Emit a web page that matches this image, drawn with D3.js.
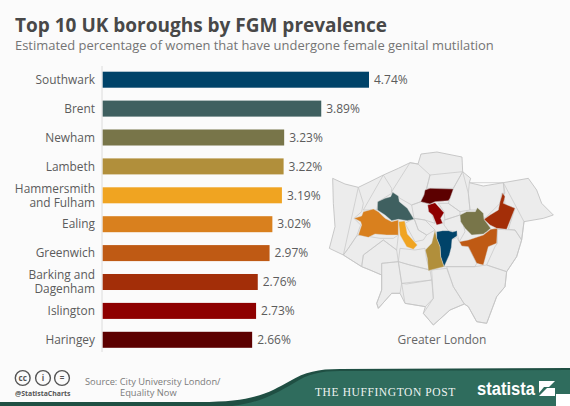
<!DOCTYPE html>
<html>
<head>
<meta charset="utf-8">
<script src="https://cdnjs.cloudflare.com/ajax/libs/d3/7.8.5/d3.min.js"></script>
<style>
html,body{margin:0;padding:0;background:#fbfbfb;}
svg{display:block;font-family:"Open Sans",sans-serif;}
</style>
</head>
<body>
<svg id="chart" width="570" height="406"></svg>
<script>
var boroughs = ["Southwark","Brent","Newham","Lambeth","Hammersmith|and Fulham","Ealing","Greenwich","Barking and|Dagenham","Islington","Haringey"];
var prevalence = [4.74,3.89,3.23,3.22,3.19,3.02,2.97,2.76,2.73,2.66];
var barColors = ["#004369","#3f6060","#787549","#b18f3b","#f0a421","#d9801e","#bf5a14","#a32e08","#8e0000","#5c0000"];

// map outlines
var silhouette = [[38,55],[75,72],[115,82],[150,65],[190,45],[235,25],[270,8],[294,12],[303,-18],[351,-24],[426,-9],[428,35],[452,55],[448,68],[490,78],[550,68],[625,55],[650,90],[665,130],[700,165],[670,175],[612,185],[605,240],[590,290],[560,335],[555,380],[530,410],[500,490],[470,485],[445,440],[433,432],[390,450],[340,495],[310,460],[316,440],[255,430],[240,400],[215,400],[175,445],[170,430],[185,390],[185,345],[150,330],[125,320],[70,285],[28,265],[45,200],[40,130]];
var greyAreas = [
  [[115,82],[130,130],[125,155],[102,175],[122,195],[110,228],[85,265],[70,285]],
  [[190,45],[215,85],[215,100],[175,125],[170,150],[130,150]],
  [[270,8],[294,12],[330,45],[320,85],[303,125],[275,135],[240,115],[215,95]],
  [[330,45],[320,85],[400,85],[428,35]],
  [[428,35],[445,100],[450,150],[420,155],[385,130],[400,85]],
  [[448,68],[445,100],[450,150],[470,150],[495,175],[540,130],[545,100],[555,100],[550,68]],
  [[550,68],[555,135],[585,145],[565,208],[585,210],[605,240],[612,185]],
  [[532,208],[585,210],[605,240],[590,290],[560,335],[500,315],[525,260],[532,250]],
  [[380,320],[465,320],[500,315],[560,335],[555,380],[530,410],[500,490],[470,485],[445,440],[433,432],[400,380]],
  [[335,330],[380,325],[400,380],[433,432],[390,450],[340,495],[310,460],[340,415]],
  [[245,370],[335,360],[340,415],[316,440],[255,430]],
  [[235,305],[270,315],[330,330],[335,360],[260,372],[245,370]],
  [[185,310],[235,305],[245,370],[240,400],[215,400],[175,445],[170,430],[185,390]],
  [[110,228],[120,225],[180,235],[220,235],[235,225],[230,270],[190,240],[130,285],[125,320],[70,285],[85,265]],
  [[130,285],[190,240],[230,270],[235,305],[185,310],[185,345],[150,330],[125,320]],
  [[235,305],[240,265],[285,270],[315,265],[320,300],[330,330],[270,315]],
  [[275,135],[303,125],[325,132],[345,190],[315,180],[282,175]],
  [[282,175],[315,180],[345,210],[320,225],[295,210]],
  [[255,190],[282,175],[295,210],[320,225],[310,240],[285,245]],
  [[355,130],[385,130],[420,155],[420,165],[375,180],[372,155]],
  [[372,180],[420,165],[430,195],[435,215],[418,245],[410,215],[385,212],[372,195]],
  [[410,232],[418,245],[445,260],[470,310],[465,320],[380,320],[372,320],[385,280],[395,240]]
];
var colouredAreas = [
  [[350,215],[368,212],[385,212],[398,216],[411,212],[411,228],[396,238],[394,262],[388,285],[372,320],[362,290],[360,260],[350,235]],
  [[173,125],[195,115],[212,110],[218,97],[235,108],[238,125],[262,145],[282,178],[262,182],[235,178],[215,182],[195,165],[172,150]],
  [[420,165],[440,155],[466,155],[472,143],[490,160],[492,178],[512,205],[500,215],[490,222],[455,225],[435,205],[422,185]],
  [[345,210],[350,235],[360,260],[362,290],[372,320],[325,332],[322,295],[316,270],[335,250]],
  [[236,185],[254,183],[262,222],[292,255],[280,268],[260,260],[240,225]],
  [[102,175],[125,168],[130,155],[160,147],[175,155],[195,175],[215,185],[235,180],[235,225],[200,225],[165,222],[145,232],[115,225],[125,195],[122,185]],
  [[418,245],[445,240],[490,225],[512,208],[532,205],[530,250],[505,260],[490,315],[470,310],[445,260],[425,258]],
  [[548,98],[555,110],[550,130],[585,145],[575,170],[560,208],[530,205],[510,195],[492,178],[510,165],[535,150],[540,125]],
  [[323,135],[345,128],[360,145],[372,158],[362,175],[368,190],[350,195],[338,165],[326,155]],
  [[302,125],[312,105],[315,90],[330,85],[400,87],[390,115],[385,122],[345,125],[330,132]]
];

var svg = d3.select('#chart');

svg.append('text').attr('x',15).attr('y',32).attr('fill','#484848').attr('font-size',19).attr('font-weight',700).text('Top 10 UK boroughs by FGM prevalence');
svg.append('text').attr('x',15).attr('y',50).attr('fill','#747474').attr('font-size',12.95).text('Estimated percentage of women that have undergone female genital mutilation');

var xScale = d3.scaleLinear().domain([0,4.74]).range([102.7,369]);
var yScale = d3.scaleBand().domain(boroughs).range([71.7,347.8]).paddingInner(0.446).paddingOuter(0);

svg.append('line').attr('x1',102).attr('x2',102).attr('y1',66).attr('y2',352).attr('stroke','#dcdcdc').attr('stroke-width',1);

svg.selectAll('rect.bar').data(boroughs).enter().append('rect').attr('class','bar')
  .attr('x',xScale(0))
  .attr('y',function(d){return yScale(d);})
  .attr('width',function(d,i){return xScale(prevalence[i])-xScale(0);})
  .attr('height',yScale.bandwidth())
  .attr('fill',function(d,i){return barColors[i];});

svg.selectAll('text.val').data(boroughs).enter().append('text').attr('class','val')
  .attr('x',function(d,i){return xScale(prevalence[i])+5;})
  .attr('y',function(d){return yScale(d)+yScale.bandwidth()/2+4.3;})
  .attr('fill','#5c5c5c').attr('font-size',12)
  .text(function(d,i){return prevalence[i].toFixed(2)+'%';});

boroughs.forEach(function(b){
  var parts = b.split('|');
  var cy = yScale(b)+yScale.bandwidth()/2;
  var label = svg.append('text').attr('fill','#5c5c5c').attr('font-size',11.9).attr('text-anchor','end');
  parts.forEach(function(p,k){
    label.append('tspan').attr('x',95)
      .attr('y',cy+4.3+(k-(parts.length-1)/2)*14)
      .text(p);
  });
});

// map
var mapX = d3.scaleLinear().domain([0,720]).range([320,560]);
var mapY = d3.scaleLinear().domain([0,600]).range([160,360]);
var outline = d3.line().x(function(d){return mapX(d[0]);}).y(function(d){return mapY(d[1]);}).curve(d3.curveLinearClosed);

svg.append('path').datum(silhouette).attr('d',outline).attr('fill','#ececec').attr('stroke','#bdbdbd').attr('stroke-width',0.8).attr('stroke-linejoin','round');
svg.selectAll('path.grey').data(greyAreas).enter().append('path').attr('class','grey')
  .attr('d',outline).attr('fill','none').attr('stroke','#c6c6c6').attr('stroke-width',0.7).attr('stroke-linejoin','round');
svg.selectAll('path.col').data(colouredAreas).enter().append('path').attr('class','col')
  .attr('d',outline).attr('fill',function(d,i){return barColors[i];}).attr('stroke','#dcdcdc').attr('stroke-width',0.4);

svg.append('text').attr('x',442).attr('y',344).attr('text-anchor','middle').attr('fill','#666').attr('font-size',12).text('Greater London');

// footer
svg.append('path')
  .attr('d','M0,402 L200,402 C255,402 270,392 290,381 C305,372 318,369 340,369 L570,368 L570,406 L0,406 Z')
  .attr('fill','#1f4f43');
svg.append('path')
  .attr('d','M232,406 C262,402 275,394 294,383 C308,374 320,371 340,371 L570,370 L570,406 Z')
  .attr('fill','#2f6c5d');
svg.append('rect').attr('x',556).attr('y',394).attr('width',14).attr('height',12).attr('fill','#fff');

['cc','i','='].forEach(function(t,i){
  var cx = [22.7,43,62][i];
  svg.append('circle').attr('cx',cx).attr('cy',378).attr('r',7.4).attr('fill','none').attr('stroke','#555').attr('stroke-width',1.4);
  svg.append('text').attr('x',cx).attr('y',381).attr('text-anchor','middle').attr('fill','#555').attr('font-size',8).attr('font-weight',700).text(t);
});
svg.append('text').attr('x',15).attr('y',395.5).attr('fill','#555').attr('font-size',6.9).attr('font-weight',700).text('@StatistaCharts');
var source = svg.append('text').attr('fill','#7a7a7a').attr('font-size',9.3);
source.append('tspan').attr('x',85).attr('y',385).text('Source: City University London/');
source.append('tspan').attr('x',120).attr('y',396).text('Equality Now');
svg.append('text').attr('x',315).attr('y',395.5).attr('fill','#eef3f1').attr('font-family','Liberation Serif').attr('font-size',11.5).attr('letter-spacing',0.6).text('THE HUFFINGTON POST');
svg.append('text').attr('x',477).attr('y',395).attr('fill','#fff').attr('font-family','Liberation Sans Narrow, Liberation Sans').attr('font-weight',700).attr('font-size',18).attr('textLength',58).attr('lengthAdjust','spacingAndGlyphs').text('statista');
svg.append('path').attr('d','M539,381 H555 L549,387 H544 L539,393 Z M539,396 L547,388 H555 V396 Z').attr('fill','#fff');
</script>
</body>
</html>
